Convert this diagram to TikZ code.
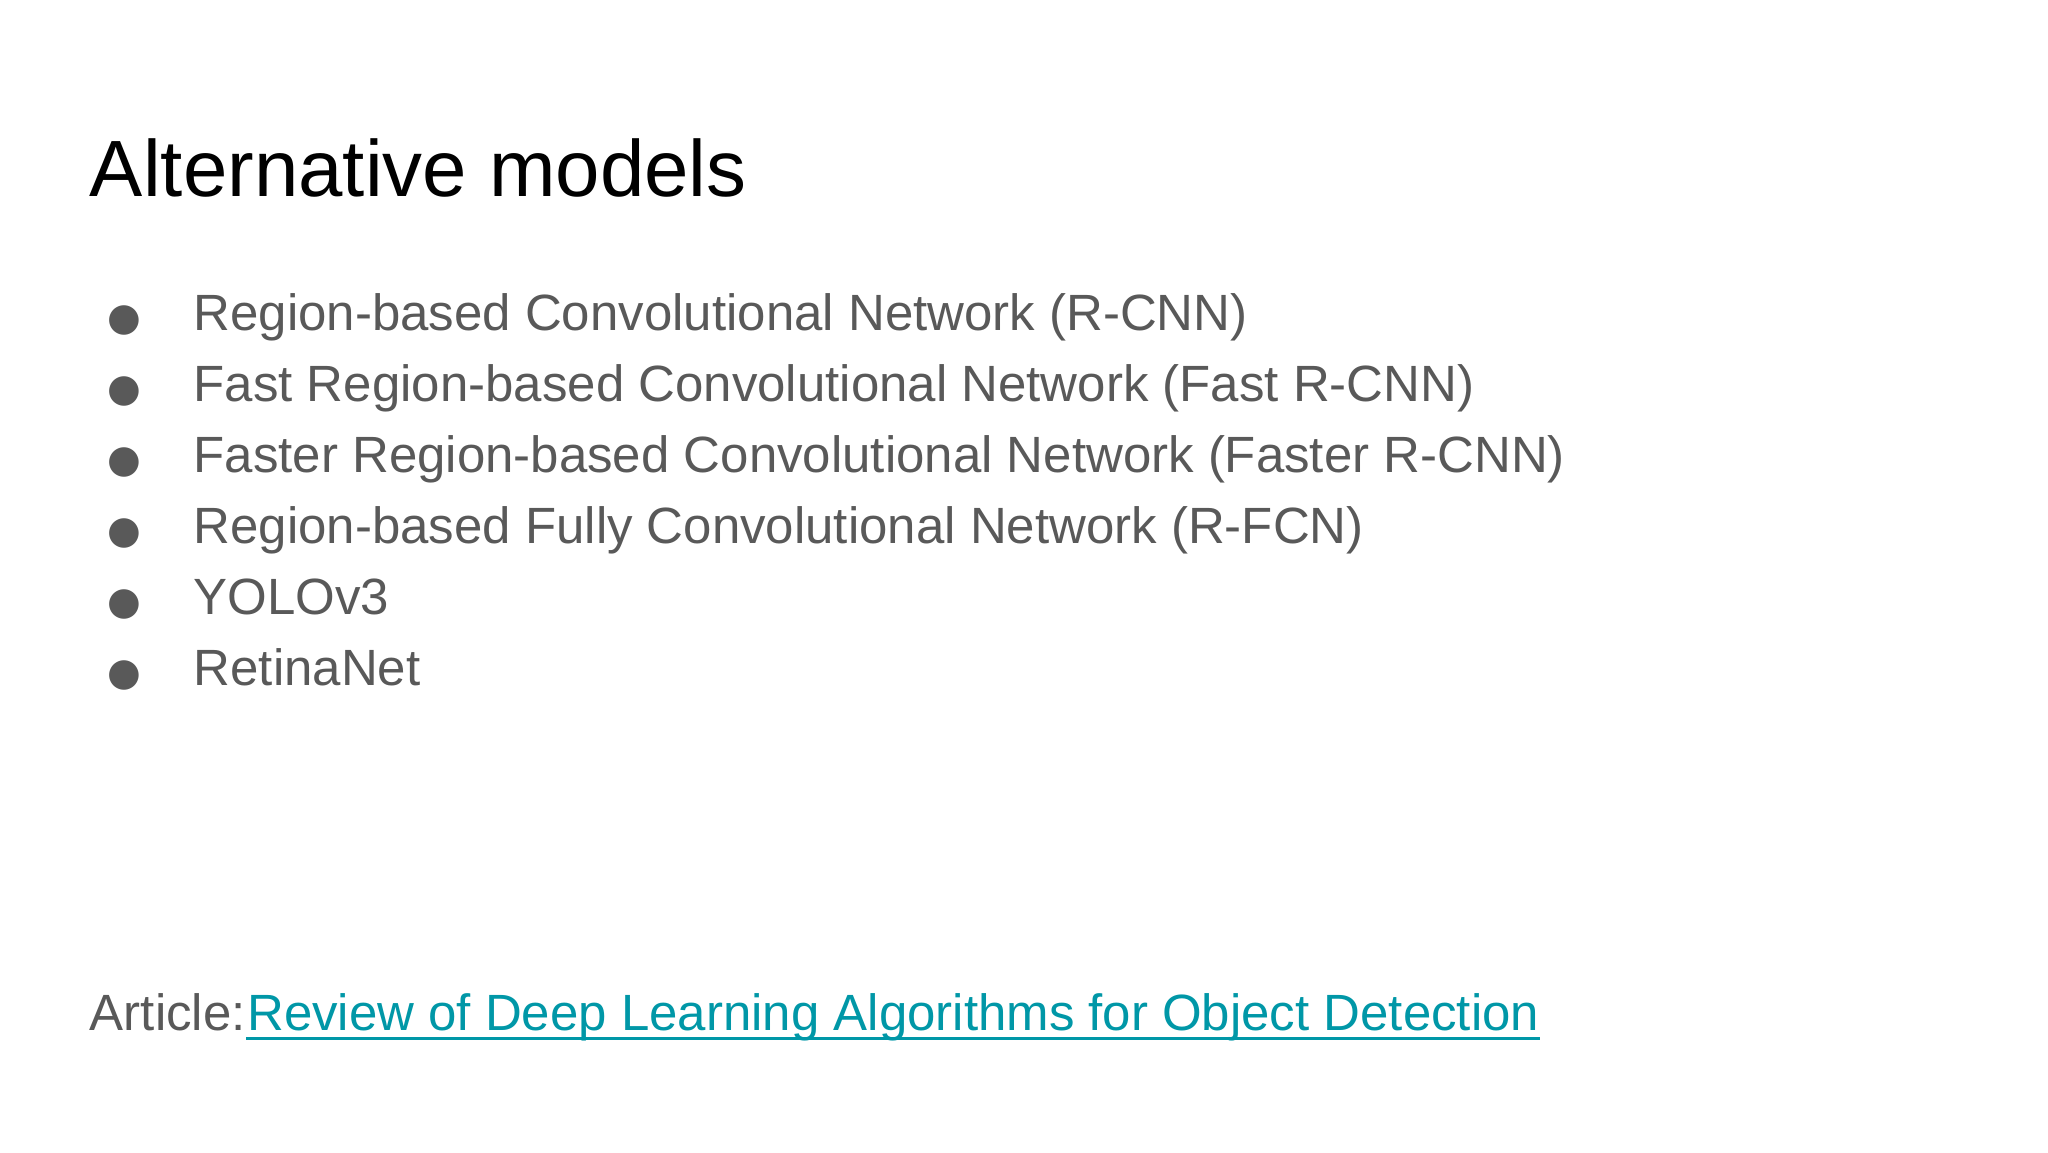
\documentclass[tikz,border=0pt]{standalone}
\usepackage{fontspec}
\setmainfont{Liberation Sans}
\newfontfamily\bulletfont{DejaVu Sans}
\usepackage{xcolor}
\definecolor{slidegray}{HTML}{595959}
\definecolor{linkteal}{HTML}{0097A7}

\begin{document}
\begin{tikzpicture}[x=0.01313cm,y=-0.01313cm]
            \useasboundingbox[fill=white] (0,0) rectangle (1560,877.5);
            \node[anchor=base west,inner sep=0pt,font=\fontsize{22.7}{27}\selectfont] (title) at (68,150) {Alternative models};
            \foreach \i/\itemtext in {0/Region-based Convolutional Network (R-CNN),
                1/Fast Region-based Convolutional Network (Fast R-CNN),
                2/Faster Region-based Convolutional Network (Faster R-CNN),
                3/Region-based Fully Convolutional Network (R-FCN),
                4/YOLOv3,
                5/RetinaNet}
            {
            \node[anchor=base,inner sep=0pt,text=slidegray,font=\bulletfont\fontsize{11}{13}\selectfont] (bullet\i) at (95,252+54*\i) {●};
            \node[anchor=base west,inner sep=0pt,text=slidegray,font=\fontsize{14.5}{17}\selectfont] (item\i) at (147,252+54*\i) {\itemtext};
            }
            \node[anchor=base west,inner sep=0pt,text=slidegray,font=\fontsize{14.5}{17}\selectfont] (article) at (68,785) {Article: };
            \node[anchor=base west,inner sep=0pt,text=linkteal,font=\fontsize{14.5}{17}\selectfont] (link) at (article.base east) {Review of Deep Learning Algorithms for Object Detection};
            \draw[linkteal,line width=0.9pt] ([yshift=-2.2pt]link.base west) -- ([yshift=-2.2pt]link.base east);
        \end{tikzpicture}
\end{document}
